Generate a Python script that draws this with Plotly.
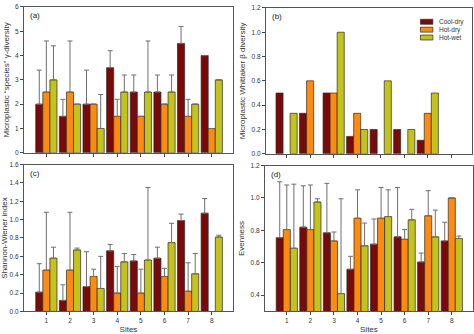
import plotly.graph_objects as go

sites = [1, 2, 3, 4, 5, 6, 7, 8]
series = ["Cool-dry", "Hot-dry", "Hot-wet"]
colors = ["#7a0a0a", "#ff8a10", "#c4c21c"]

# (a) gamma diversity: mean and top of error bar
a_vals = [[2, 1.5, 2, 3.5, 2.5, 2.5, 4.5, 4],
          [2.5, 2.5, 2, 1.5, 1.5, 2, 1.5, 1],
          [3, 2, 1, 2.5, 2.5, 2.5, 2, 3]]
a_tops = [[3.4, 2.2, 3.4, 4.2, 3.2, 3.2, 5.2, None],
          [4.6, 4.6, None, 2.2, None, None, 2.2, None],
          [4.4, None, 2.4, 3.2, 4.6, 3.2, None, None]]

# (b) Whittaker beta diversity (None = no bar)
b_vals = [[0.5, 0.333, 0.5, 0.143, 0.2, 0.2, 0.111, None],
          [None, 0.6, 0.5, 0.333, None, None, 0.333, None],
          [0.333, None, 1.0, 0.2, 0.6, 0.2, 0.5, None]]

# (c) Shannon-Wiener index
c_vals = [[0.21, 0.12, 0.27, 0.66, 0.55, 0.58, 0.99, 1.07],
          [0.45, 0.45, 0.38, 0.20, 0.20, 0.38, 0.22, None],
          [0.58, 0.67, 0.25, 0.54, 0.56, 0.75, 0.41, 0.81]]
c_tops = [[0.52, 0.29, 0.65, 0.73, 0.62, 0.70, 1.06, 1.23],
          [1.08, 1.08, 0.46, 0.49, 0.46, 0.47, 0.53, None],
          [0.70, 0.69, 0.60, 0.63, 1.35, 0.96, 0.63, 0.83]]

# (d) Evenness
d_vals = [[0.755, 0.82, 0.785, 0.56, 0.715, 0.76, 0.605, 0.735],
          [0.805, 0.805, 0.735, 0.875, 0.875, 0.745, 0.89, 1.0],
          [0.69, 0.975, 0.41, 0.705, 0.885, 0.865, 0.76, 0.75]]
d_tops = [[1.10, 1.075, 1.09, 0.64, 0.87, 1.065, 0.66, 0.85],
          [1.08, 1.08, 0.79, 1.05, 1.065, 0.805, 1.045, None],
          [1.085, 0.995, 0.995, 0.845, 1.05, 0.93, 0.925, 0.765]]

W, H = 474, 334
def px(x):
    return x / W
def py(y):
    return 1 - y / H

fig = go.Figure()

panels = [
    ("x", "y", a_vals, a_tops),
    ("x2", "y2", b_vals, None),
    ("x3", "y3", c_vals, c_tops),
    ("x4", "y4", d_vals, d_tops),
]
for xa, ya, vals, tops in panels:
    for i, name in enumerate(series):
        err = None
        if tops is not None:
            plus = [(t - v) if (t is not None and v is not None) else None
                    for t, v in zip(tops[i], vals[i])]
            err = dict(type="data", symmetric=False, array=plus,
                       arrayminus=[0] * len(plus), color="#6e6e6e",
                       thickness=1, width=2.5)
        fig.add_trace(go.Bar(
            x=sites, y=vals[i], name=name, xaxis=xa, yaxis=ya,
            marker=dict(color=colors[i], line=dict(color="#2a2a2a", width=0.7)),
            error_y=err, showlegend=False, offsetgroup=str(i),
        ))

font = dict(family="Liberation Sans, Arial, sans-serif", size=7, color="#333")
common_x = dict(tickmode="array", tickvals=sites, ticks="outside", ticklen=3,
                tickwidth=1, tickcolor="#444", showline=True, linecolor="#555",
                linewidth=1, mirror=True, showgrid=False, zeroline=False,
                tickfont=dict(size=6.5, color="#333"))
common_y = dict(ticks="outside", ticklen=3, tickwidth=1, tickcolor="#444",
                showline=True, linecolor="#555", linewidth=1, mirror=True,
                showgrid=False, zeroline=False, tickfont=dict(size=6.5, color="#333"))

title_font = dict(size=8, color="#333")

fig.update_layout(
    width=W, height=H, margin=dict(l=0, r=0, t=0, b=0),
    paper_bgcolor="white", plot_bgcolor="white", font=font,
    barmode="group", bargap=0.1, bargroupgap=0,
    xaxis=dict(common_x, domain=[px(22), px(232)], range=[0.05, 8.9],
               anchor="y", showticklabels=False),
    yaxis=dict(common_y, domain=[py(152), py(3)], range=[0, 6], dtick=1,
               anchor="x", title=dict(text="Microplastic “species” γ-diversity",
                                      font=title_font, standoff=4)),
    xaxis2=dict(common_x, domain=[px(265), px(472)], range=[0.12, 8.88],
                anchor="y2", showticklabels=False),
    yaxis2=dict(common_y, domain=[py(153), py(4)], range=[0, 1.2], dtick=0.2,
                tickformat=".1f", anchor="x2",
                title=dict(text="Microplastic Whittaker β diversity",
                           font=title_font, standoff=4)),
    xaxis3=dict(common_x, domain=[px(22), px(232)], range=[0.05, 8.9],
                anchor="y3", title=dict(text="Sites", font=title_font, standoff=3)),
    yaxis3=dict(common_y, domain=[py(314), py(164)], range=[0, 1.6], dtick=0.2,
                tickformat=".1f", anchor="x3",
                title=dict(text="Shannon-Wiener index", font=title_font, standoff=4)),
    xaxis4=dict(common_x, domain=[px(264), px(473)], range=[0.07, 8.9],
                anchor="y4", title=dict(text="Sites", font=title_font, standoff=3)),
    yaxis4=dict(common_y, domain=[py(314), py(165)], range=[0.3, 1.2],
                tickvals=[0.4, 0.6, 0.8, 1.0, 1.2], tickformat=".1f", anchor="x4",
                title=dict(text="Evenness", font=title_font, standoff=4)),
)

# panel labels
for lab, xa, ya in [("(a)", "x", "y"), ("(b)", "x2", "y2"), ("(c)", "x3", "y3"), ("(d)", "x4", "y4")]:
    fig.add_annotation(text=lab, xref=f"{xa} domain", yref=f"{ya} domain",
                       x=0.02, y=0.985, xanchor="left", yanchor="top",
                       showarrow=False, font=dict(size=8, color="#222"))

# legend in panel (b)
for i, name in enumerate(series):
    y0 = 0.905 - i * 0.054
    fig.add_shape(type="rect", xref="x2 domain", yref="y2 domain",
                  x0=0.75, x1=0.81, y0=y0 - 0.017, y1=y0 + 0.017,
                  fillcolor=colors[i], line=dict(color="#2a2a2a", width=0.7))
    fig.add_annotation(text=name, xref="x2 domain", yref="y2 domain",
                       x=0.83, y=y0, xanchor="left", yanchor="middle",
                       showarrow=False, font=dict(size=6.5, color="#333"))

fig.write_html("out.html")
